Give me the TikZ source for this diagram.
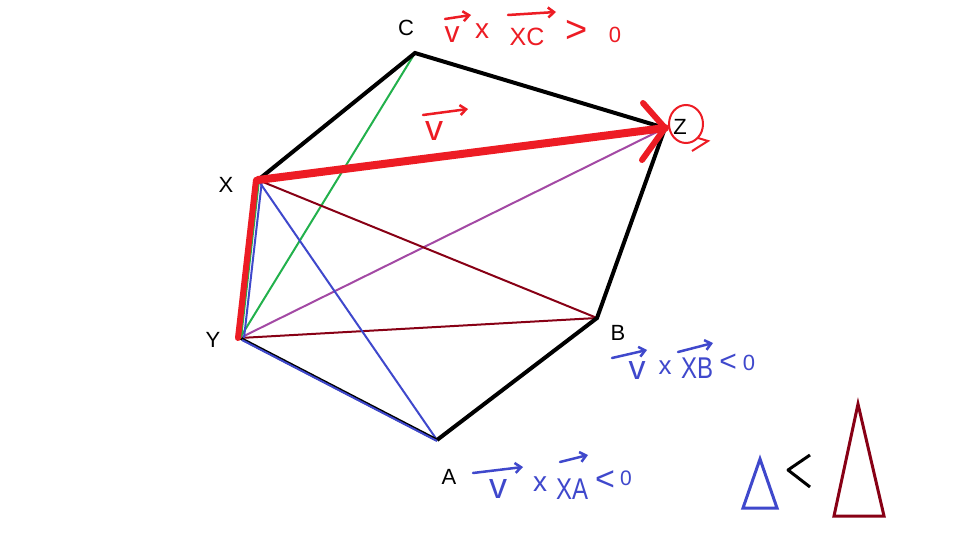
\documentclass[tikz,border=0pt]{standalone}
\usepackage{fontspec}
\setmainfont{Liberation Sans}
\setsansfont{Liberation Sans}
\usetikzlibrary{calc,arrows.meta}
\definecolor{pred}{RGB}{237,28,36}
\definecolor{pblue}{RGB}{63,72,204}
\definecolor{pgreen}{RGB}{34,177,76}
\definecolor{ppurple}{RGB}{163,73,164}
\definecolor{pmaroon}{RGB}{136,0,21}
\tikzset{
  thin line/.style={line width=2pt},
  edge/.style={line width=4pt, black},
  vecline/.style={line width=8pt, pred, line cap=round},
  ptlabel/.style={font=\fontsize{22}{22}\selectfont, text=black, inner sep=0pt},
  hand/.style={font=\fontsize{#1}{#1}\selectfont, inner sep=0pt, anchor=center},
  hand/.default=26,
  handarrow/.style={line width=2.5pt, line cap=round, -{Straight Barb[length=6pt,width=10pt]}},
  tri/.style={line width=3pt, line join=miter},
}
\begin{document}
\begin{tikzpicture}[x=1pt,y=-1pt]
\useasboundingbox (0,0) rectangle (960,540);
\fill[white] (0,0) rectangle (960,540);
% points
\coordinate (C) at (415,53);
\coordinate (Z) at (665,128);
\coordinate (X) at (258,180);
\coordinate (Y) at (240,338);
\coordinate (B) at (597,318);
\coordinate (A) at (437,440);
% thin coloured diagonals
\draw[thin line, pgreen] (C) -- (X);
\draw[thin line, pgreen] (C) -- (Y);
\draw[thin line, ppurple] (Y) -- (Z);
\draw[thin line, ppurple] (X) -- (Z);
\draw[thin line, pmaroon] (X) -- (B);
\draw[thin line, pmaroon] (Y) -- (B);
\draw[thin line, pblue] (X) -- (A);
% polygon
\draw[edge] (X) -- (C) -- (Z) -- (B) -- (A);
\draw[line width=3pt, black] (A) -- (Y);
\draw[thin line, pblue] ($(Y)+(2,2)$) -- ($(A)+(0,1)$);
\draw[line width=2pt, black] (Y) -- (X);
\draw[thin line, pblue] ($(Y)+(4,0)$) -- ($(X)+(4,0)$);
\draw[thin line, pgreen] ($(Y)+(1,0)$) -- ($(X)+(1,0)$);
% red vector
\draw[line width=6pt, pred, line cap=round] ($(Y)+(-2,0)$) -- ($(X)+(-2,0)$);
\draw[vecline] (X) -- (Z);
\coordinate (H1) at (643,103);
\coordinate (H2) at (642,160);
\draw[line width=6pt, pred, line cap=round] (H1) -- (Z) -- (H2);
% circle around Z
\draw[line width=2pt, pred] (686,124) ellipse [x radius=17, y radius=19];
\draw[line width=2pt, pred] (698,138) -- (708,141) -- (692,151);
% point labels
\node[ptlabel] (lC) at (406,28) {C};
\node[ptlabel] (lZ) at (680,127) {Z};
\node[ptlabel] (lX) at (226,185) {X};
\node[ptlabel] (lY) at (213,340) {Y};
\node[ptlabel] (lB) at (618,333) {B};
\node[ptlabel] (lA) at (449,477) {A};
% handwritten formula near C (red)
\node[hand=30, text=pred] (c1) at (452,35) {v};
\node[hand=28, text=pred] (c2) at (482,31) {x};
\node[hand=25, text=pred] (c3) at (527,37) {XC};
\node[hand=38, text=pred] (c4) at (577,31) {>};
\node[hand=22, text=pred] (c5) at (615,35) {0};
\coordinate (ca1) at (445,19); \coordinate (ca2) at (471,15);
\coordinate (ca3) at (508,15); \coordinate (ca4) at (556,12);
\draw[handarrow, pred] (ca1) -- (ca2);
\draw[handarrow, pred] (ca3) -- (ca4);
% v label
\node[hand=36, text=pred] (fv) at (434,131) {v};
\coordinate (va1) at (423,115); \coordinate (va2) at (468,109);
\draw[handarrow, pred] (va1) -- (va2);
% formula near B (blue)
\node[hand=34, text=pblue] (b1) at (637,371) {v};
\node[hand=26, text=pblue] (b2) at (665,368) {x};
\node[hand=30, text=pblue] (b3) at (697,368) {\scalebox{0.8}[1]{XB}};
\node[hand=30, text=pblue] (b4) at (728,363) {<};
\node[hand=22, text=pblue] (b5) at (749,363) {0};
\coordinate (ba1) at (612,358); \coordinate (ba2) at (647,350);
\coordinate (ba3) at (678,352); \coordinate (ba4) at (713,343);
\draw[handarrow, pblue] (ba1) -- (ba2);
\draw[handarrow, pblue] (ba3) -- (ba4);
% formula near A (blue)
\node[hand=36, text=pblue] (a1) at (498,489) {v};
\node[hand=28, text=pblue] (a2) at (540,484) {x};
\node[hand=30, text=pblue] (a3) at (572,489) {\scalebox{0.8}[1]{XA}};
\node[hand=34, text=pblue] (a4) at (605,481) {<};
\node[hand=21, text=pblue] (a5) at (626,478) {0};
\coordinate (aa1) at (473,473); \coordinate (aa2) at (523,467);
\coordinate (aa3) at (560,462); \coordinate (aa4) at (588,455);
\draw[handarrow, pblue] (aa1) -- (aa2);
\draw[handarrow, pblue] (aa3) -- (aa4);
% triangles
\draw[tri, pblue] (743,508) -- (760,459) -- (777,508) -- cycle;
\draw[line width=3pt, black, line join=round] (810,455) -- (788,470) -- (810,487);
\draw[tri, pmaroon] (834,516) -- (858,404) -- (884,516) -- cycle;
\end{tikzpicture}
\end{document}
